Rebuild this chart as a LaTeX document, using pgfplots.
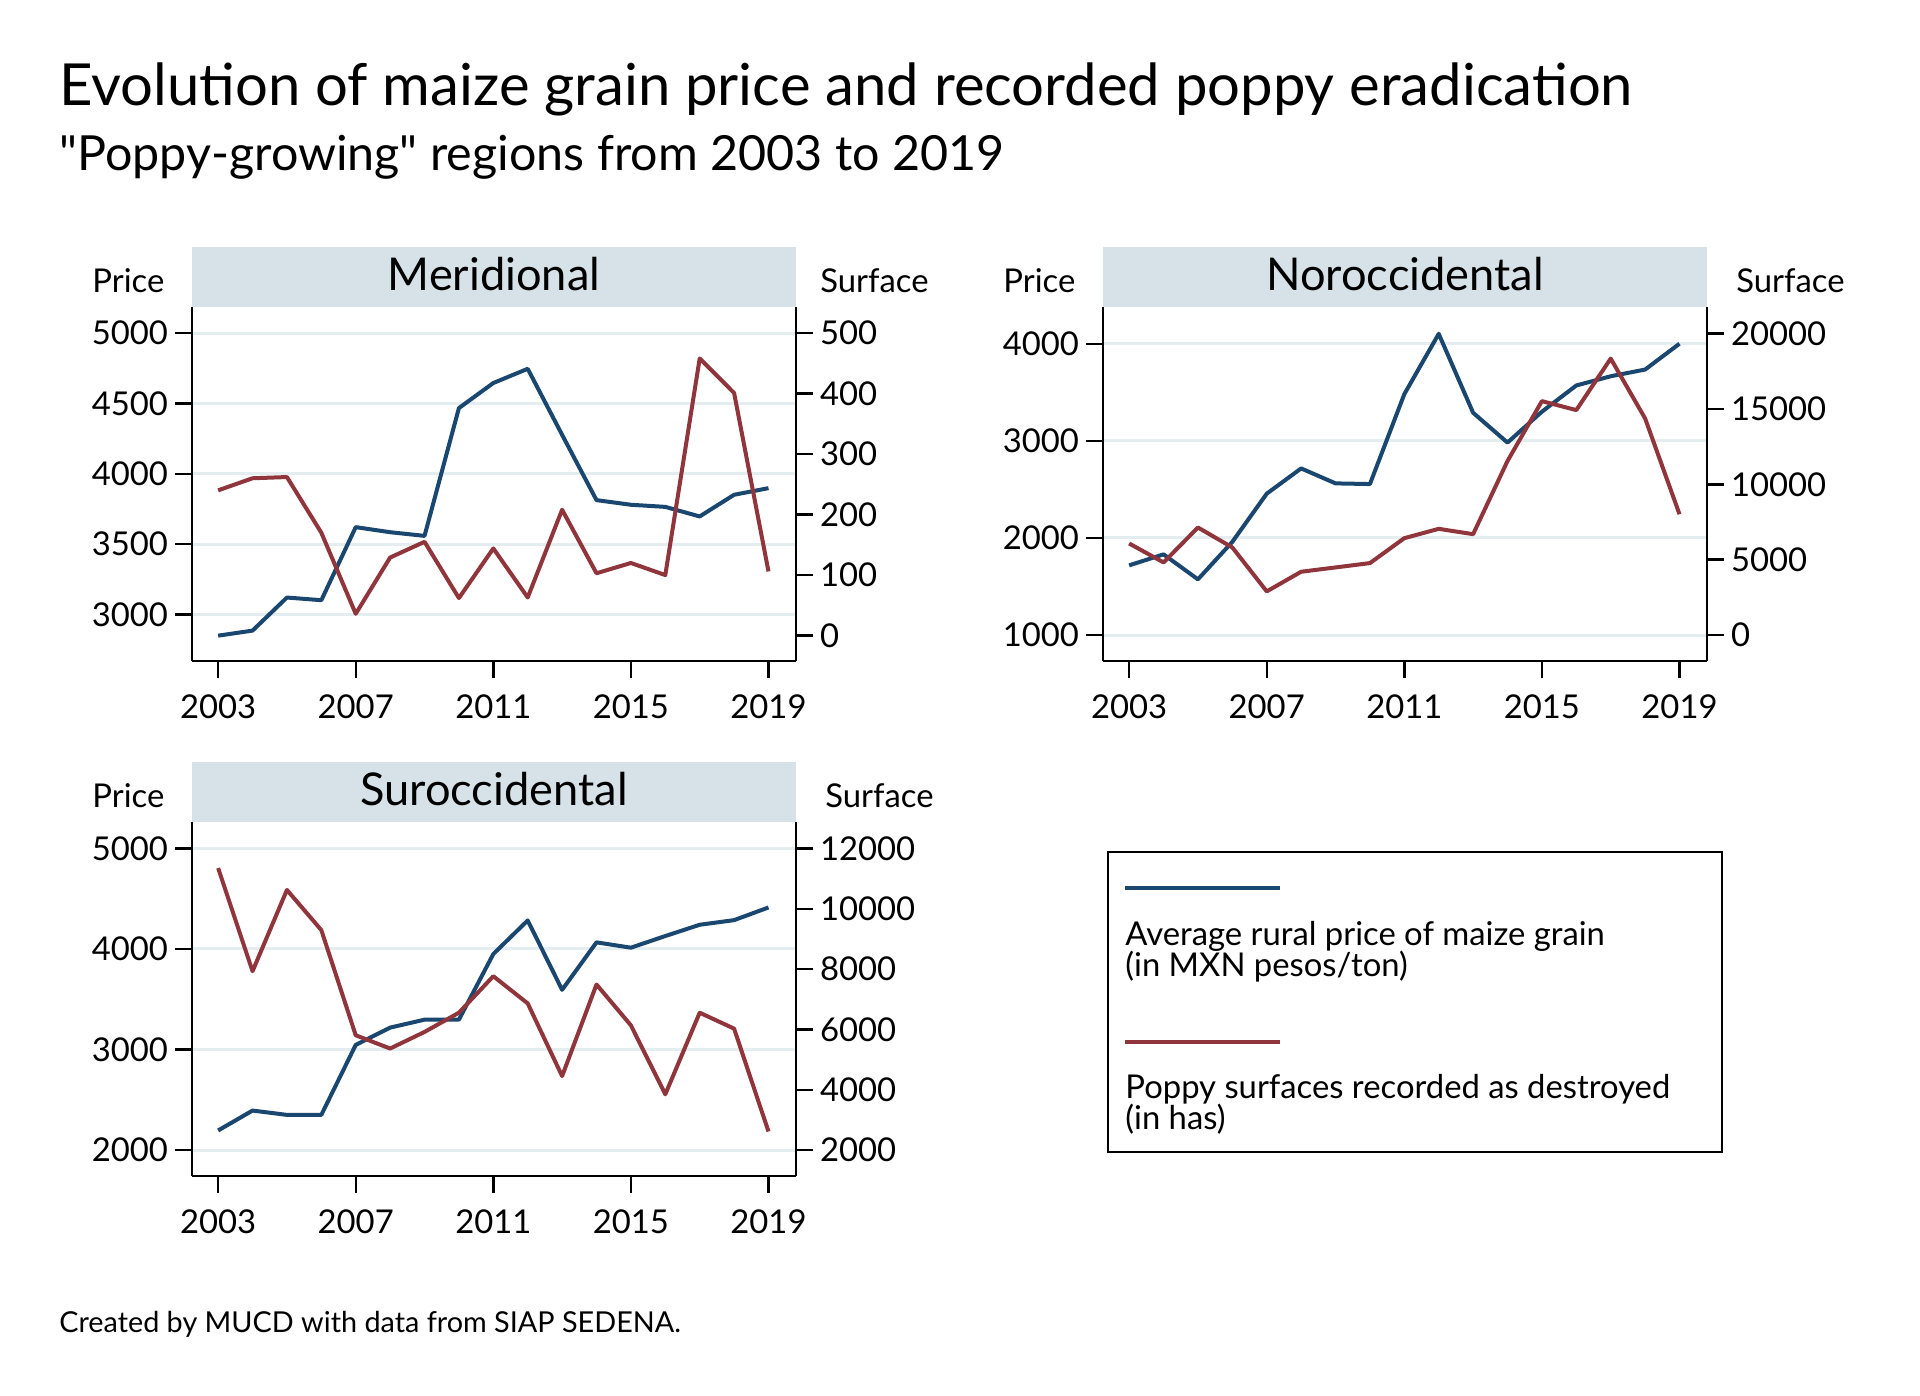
\documentclass[border=0pt]{standalone}
\usepackage{pgfplots}
\pgfplotsset{compat=1.18}
\usepackage{fontspec}
\setmainfont{Lato}[Ligatures=TeXOff]
\usetikzlibrary{calc}

\definecolor{pricecol}{HTML}{1A476F}
\definecolor{surfcol}{HTML}{90353B}
\definecolor{stripcol}{HTML}{D6E2E8}
\definecolor{gridcol}{HTML}{E4EDEF}

% year, maize price (MXN/ton), poppy surface destroyed (ha)
\pgfplotstableread{
year price surface
2003 2850 240
2004 2886 260
2005 3121 262
2006 3102 170
2007 3621 36
2008 3585 129
2009 3559 155
2010 4467 62
2011 4645 144
2012 4746 63
2013 4277 208
2014 3813 103
2015 3780 120
2016 3765 100
2017 3697 458
2018 3851 401
2019 3898 106
}\meridional

\pgfplotstableread{
year price surface
2003 1718 6072
2004 1831 4813
2005 1574 7132
2006 1960 5807
2007 2456 2892
2008 2716 4195
2009 2562 4482
2010 2555 4769
2011 3481 6425
2012 4102 7044
2013 3289 6690
2014 2982 11548
2015 3300 15522
2016 3570 14926
2017 3665 18348
2018 3734 14374
2019 4000 8015
}\noroccidental

\pgfplotstableread{
year price surface
2003 2195 11350
2004 2393 7929
2005 2350 10624
2006 2350 9293
2007 3046 5806
2008 3218 5366
2009 3297 5916
2010 3297 6554
2011 3950 7764
2012 4284 6862
2013 3594 4453
2014 4066 7489
2015 4013 6136
2016 4129 3848
2017 4241 6554
2018 4287 6026
2019 4413 2616
}\suroccidental

\pgfplotsset{
  panel/.style={
    scale only axis, width=302bp, height=177bp,
    xmin=2002.24, xmax=2019.8,
    xtick={2003,2007,2011,2015,2019},
    scaled x ticks=false, scaled y ticks=false,
    tick align=outside, major tick length=8.5bp,
    tick style={black, line width=1.2bp},
    axis line style={black, line width=1.2bp},
    tick label style={font=\fontsize{16.4bp}{19bp}\selectfont},
    xticklabel style={yshift=-5bp},
    /pgf/number format/assume math mode=true,
    /pgf/number format/1000 sep={},
    anchor=south west,
  },
  leftax/.style={panel, axis x line*=bottom, axis y line*=left,
    ymajorgrids, grid style={gridcol, line width=1.5bp}},
  rightax/.style={panel, hide x axis, axis y line*=right},
  priceline/.style={pricecol, line width=2bp, line join=round},
  surfline/.style={surfcol, line width=2bp, line join=round},
}

% panel header: shaded band above the plot area with the region name
\newcommand{\strip}[2]{%
  \fill[stripcol] (#1.north west) rectangle ([yshift=30bp]#1.north east);
  \node[anchor=base, font=\fontsize{22.6bp}{27bp}\selectfont]
    at ([yshift=8.5bp]$(#1.north west)!0.5!(#1.north east)$) {#2};
}

\begin{document}
\begin{tikzpicture}
\useasboundingbox (0,0) rectangle (960bp,-698bp);
\fill[white] (0,0) rectangle (960bp,-698bp);

% titles
\node[anchor=base west, inner sep=0, font=\fontsize{29bp}{35bp}\selectfont]
  at (29.5bp,-52.5bp) {Evolution of maize grain price and recorded poppy eradication};
\node[anchor=base west, inner sep=0, font=\fontsize{24.2bp}{29bp}\selectfont]
  at (29.5bp,-85bp) {"Poppy-growing" regions from 2003 to 2019};

% Meridional
\begin{axis}[leftax, name=p1, at={(96bp,-330.5bp)},
  ymin=2670, ymax=5185, ytick={3000,3500,...,5000}]
  \addplot[priceline] table[x=year, y=price] {\meridional};
\end{axis}
\begin{axis}[rightax, at={(96bp,-330.5bp)},
  ymin=-42, ymax=543, ytick={0,100,...,500}]
  \addplot[surfline] table[x=year, y=surface] {\meridional};
\end{axis}
\strip{p1}{Meridional}

% Noroccidental
\begin{axis}[leftax, name=p2, at={(551.5bp,-330.5bp)},
  ymin=733, ymax=4378, ytick={1000,2000,...,4000}]
  \addplot[priceline] table[x=year, y=price] {\noroccidental};
\end{axis}
\begin{axis}[rightax, at={(551.5bp,-330.5bp)},
  ymin=-1730, ymax=21770, ytick={0,5000,...,20000}]
  \addplot[surfline] table[x=year, y=surface] {\noroccidental};
\end{axis}
\strip{p2}{Noroccidental}

% Suroccidental
\begin{axis}[leftax, name=p3, at={(96bp,-588bp)},
  ymin=1742, ymax=5263, ytick={2000,3000,...,5000}]
  \addplot[priceline] table[x=year, y=price] {\suroccidental};
\end{axis}
\begin{axis}[rightax, at={(96bp,-588bp)},
  ymin=1140, ymax=12876, ytick={2000,4000,...,12000}]
  \addplot[surfline] table[x=year, y=surface] {\suroccidental};
\end{axis}
\strip{p3}{Suroccidental}

% axis titles
\begin{scope}[every node/.style={anchor=base west, inner sep=0, font=\fontsize{16.4bp}{19bp}\selectfont}]
  \node at (46bp,-146bp) {Price};
  \node at (410bp,-146bp) {Surface};
  \node at (501.5bp,-146bp) {Price};
  \node at (868bp,-146bp) {Surface};
  \node at (46bp,-403.5bp) {Price};
  \node at (412.5bp,-403.5bp) {Surface};
\end{scope}

% legend
\draw[black, line width=1bp] (554bp,-426bp) rectangle (861bp,-576bp);
\draw[pricecol, line width=2bp] (562.5bp,-444bp) -- (640bp,-444bp);
\draw[surfcol, line width=2bp] (562.5bp,-521bp) -- (640bp,-521bp);
\begin{scope}[every node/.style={anchor=base west, inner sep=0, font=\fontsize{16.4bp}{19bp}\selectfont}]
  \node at (562.5bp,-472.5bp) {Average rural price of maize grain};
  \node at (562.5bp,-488bp) {(in MXN pesos/ton)};
  \node at (562.5bp,-549bp) {Poppy surfaces recorded as destroyed};
  \node at (562.5bp,-564.5bp) {(in has)};
\end{scope}

% source note
\node[anchor=base west, inner sep=0, font=\fontsize{14.4bp}{18bp}\selectfont]
  at (29.5bp,-666bp) {Created by MUCD with data from SIAP SEDENA.};
\end{tikzpicture}
\end{document}
